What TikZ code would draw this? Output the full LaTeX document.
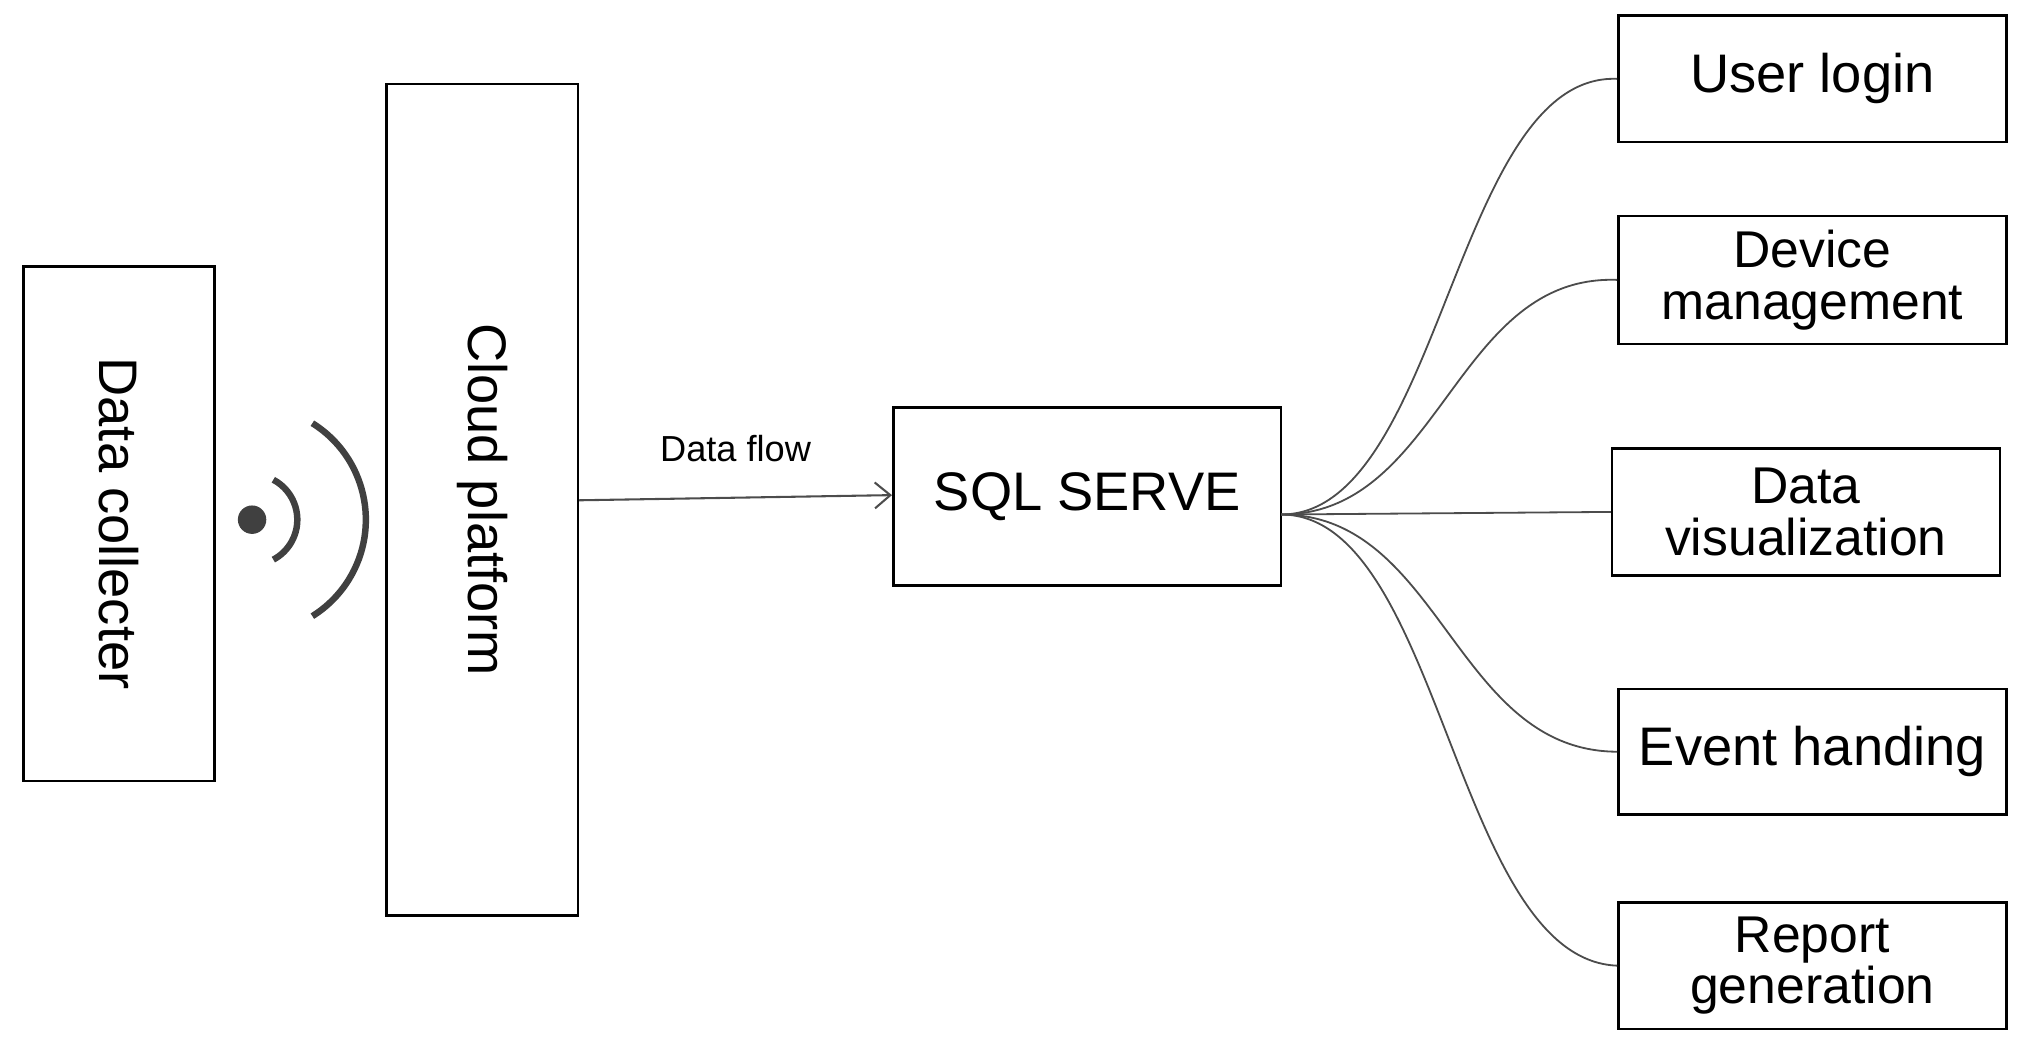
\documentclass[tikz,border=0pt]{standalone}
\usepackage{fontspec}
\setmainfont{Liberation Sans}
\usetikzlibrary{arrows.meta}
\begin{document}
\begin{tikzpicture}[x=0.5pt,y=-0.5pt,
  box/.style={draw,line width=1pt,inner sep=0pt,align=center,font=\fontsize{20}{20}\selectfont},
  link/.style={draw=black!70,line width=0.7pt}]
\useasboundingbox (0,0) rectangle (1568,808);
\node[box,minimum width=74pt,minimum height=199pt] (dc) at (92,405) {};
\node[rotate=-90,font=\fontsize{21}{20}\selectfont] (dct) at (dc.center) {Data collecter};
\node[box,minimum width=74pt,minimum height=321.5pt] (cp) at (373,386.5) {};
\node[rotate=-90,font=\fontsize{21}{20}\selectfont] (cpt) at (cp.center) {Cloud platform};
\node[box,minimum width=150pt,minimum height=69pt,font=\fontsize{21}{20}\selectfont] (sql) at (841,384) {SQL SERVE};
\node[box,minimum width=150pt,minimum height=49pt,font=\fontsize{21}{20}\selectfont] (ul) at (1402,61) {User login};
\node[box,minimum width=150pt,minimum height=49.5pt] (dm) at (1402,216.5) {Device\\management};
\node[box,minimum width=150pt,minimum height=49pt] (dv) at (1397,396) {Data\\visualization};
\node[box,minimum width=150pt,minimum height=48.5pt,font=\fontsize{21}{20}\selectfont] (eh) at (1402,581.5) {Event handing};
\node[box,minimum width=150pt,minimum height=49pt] (rg) at (1402,747) {Report\\generation};
\coordinate (s) at (991,398);
\draw[line width=0.8pt,black!70,-{Straight Barb[length=6pt,width=10pt]}] (cp.east |- 0,387) -- (sql.west |- 0,383) node[midway,above=10pt,font=\fontsize{14}{14}\selectfont,black] {Data flow};
\foreach \t/\y in {ul/56,dm/212,eh/581,rg/742}
  \draw[link] (s) .. controls (1115,398) and (1125,\y) .. (\t.west);
\draw[link] (s) -- (dv.west);
\fill[black!75] (195,402) circle (5.5pt);
\draw[black!75,line width=2.5pt] (195,402) ++(-62:35) arc (-62:62:35);
\draw[black!75,line width=2.5pt] (195,402) ++(-58:88) arc (-58:58:88);
\end{tikzpicture}
\end{document}
